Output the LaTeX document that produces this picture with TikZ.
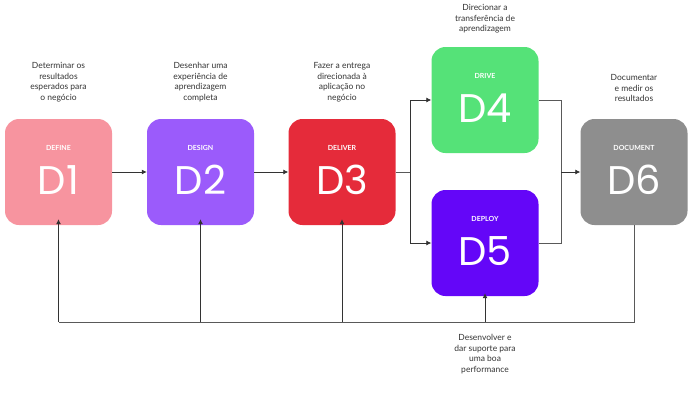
\documentclass[tikz,border=0pt]{standalone}
\usepackage{fontspec}
\setmainfont{Lato}
\newfontfamily\dfont{Poppins}
\usetikzlibrary{arrows.meta}
\definecolor{c1}{HTML}{F7949F}
\definecolor{c2}{HTML}{9B5BFB}
\definecolor{c3}{HTML}{E52B3A}
\definecolor{c4}{HTML}{55E278}
\definecolor{c5}{HTML}{6406F8}
\definecolor{c6}{HTML}{8E8E8E}
\definecolor{ln}{HTML}{333333}
\begin{document}
\begin{tikzpicture}[x=1pt,y=-1pt,
  box/.style={rounded corners=14pt,minimum width=107pt,minimum height=106pt,inner sep=0pt},
  big/.style={text=white,font=\dfont\fontsize{40}{40}\selectfont},
  small/.style={text=white,font=\fontsize{7}{8}\selectfont\bfseries},
  lab/.style={align=center,font=\fontsize{8.5}{10.5}\selectfont,text=ln},
  ar/.style={draw=ln,line width=0.8pt,-{Latex[length=5pt,width=5pt]}},
  pl/.style={draw=gray!70!black,line width=0.8pt}]
\useasboundingbox (0,0) rectangle (700,400);
\node[box,fill=c1] (d1) at (58.5,172) {};
\node[box,fill=c2] (d2) at (200.5,172) {};
\node[box,fill=c3] (d3) at (342,172) {};
\node[box,fill=c4] (d4) at (485,100) {};
\node[box,fill=c5] (d5) at (485,243) {};
\node[box,fill=c6] (d6) at (634,172) {};
\foreach \n/\t/\s in {d1/D1/DEFINE,d2/D2/DESIGN,d3/D3/DELIVER,d4/D4/DRIVE,d5/D5/DEPLOY,d6/D6/DOCUMENT}{
  \node[big] (\n t) at ([yshift=-8]\n.center) {\t};
  \node[small] (\n s) at ([yshift=24]\n.center) {\s};
}
\node[lab] (l1) at (58.5,82) {Determinar os\\resultados\\esperados para\\o negócio};
\node[lab] (l2) at (200.5,82) {Desenhar uma\\experiência de\\aprendizagem\\completa};
\node[lab] (l3) at (342,82) {Fazer a entrega\\direcionada à\\aplicação no\\negócio};
\node[lab] (l4) at (485,19) {Direcionar a\\transferência de\\aprendizagem};
\node[lab] (l6) at (634,88) {Documentar\\e medir os\\resultados};
\node[lab] (l5) at (485,354) {Desenvolver e\\dar suporte para\\uma boa\\performance};
\draw[ar] (d1) -- (d2);
\draw[ar] (d2) -- (d3);
\coordinate (j1) at (410,172);
\coordinate (j2) at (561,172);
\draw[pl] (d3.east) -- (j1);
\draw[ar] (j1) |- (d4.west);
\draw[ar] (j1) |- (d5.west);
\draw[pl] (d4.east) -| (j2);
\draw[pl] (d5.east) -| (j2);
\draw[ar] (j2) -- (d6.west);
\coordinate (b6) at (634,322);
\coordinate (b1) at (58.5,322);
\draw[pl] (d6.south) -- (b6) -- (b1);
\draw[ar] (b1) -- ([yshift=6]d1.south);
\draw[ar] (d2.south|-b1) -- ([yshift=6]d2.south);
\draw[ar] (d3.south|-b1) -- ([yshift=6]d3.south);
\draw[ar] (d5.south|-b1) -- ([yshift=3]d5.south);
\end{tikzpicture}
\end{document}
